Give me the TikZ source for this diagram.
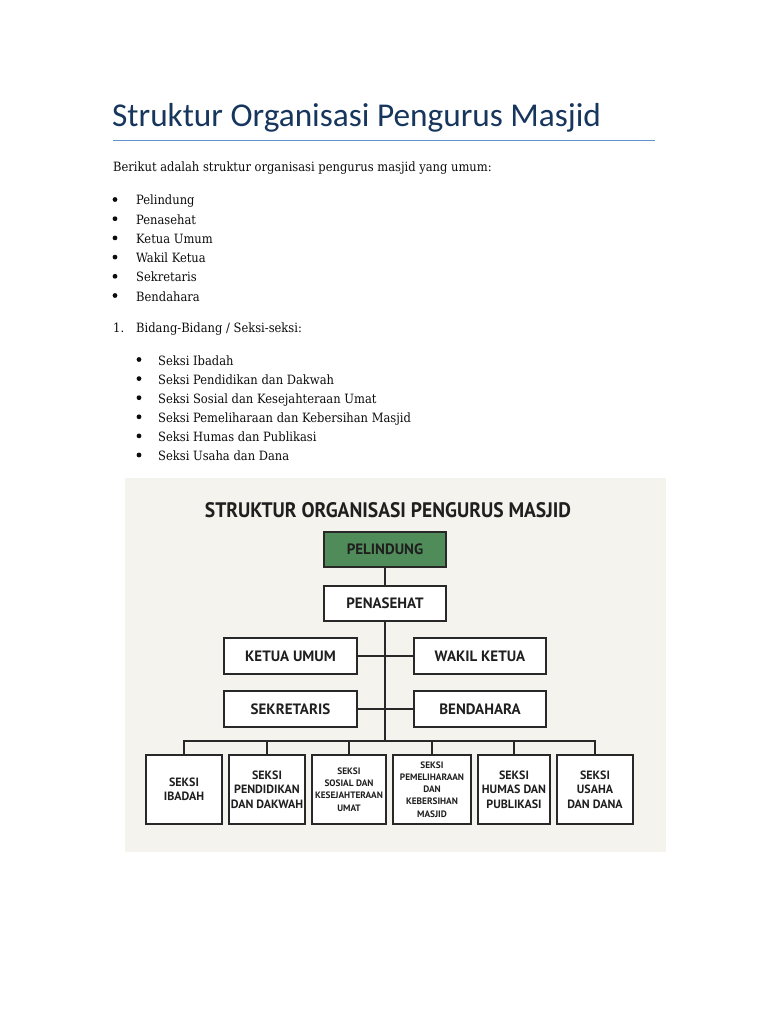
\documentclass[tikz,border=0pt]{standalone}
\usepackage{fontspec}
\setmainfont{DejaVu Serif Condensed}
\newfontfamily\headfont{Carlito}
\newfontfamily\chartfont{PT Sans}
\newfontfamily\charthead{PT Sans}[FakeStretch=0.93]
\definecolor{titleblue}{RGB}{23,54,93}
\definecolor{ruleblue}{RGB}{95,145,205}
\definecolor{chartbg}{RGB}{245,243,237}
\definecolor{pelgreen}{RGB}{80,140,90}
\definecolor{boxline}{RGB}{40,40,40}
\begin{document}
\begin{tikzpicture}[x=1pt,y=-1pt,
  txt/.style={anchor=base west,inner sep=0pt,text=black!95,font=\fontsize{12.8}{15}\selectfont},
  box/.style={draw=boxline,line width=2pt,fill=white!98!chartbg,inner sep=0pt,text=black!88,font=\chartfont\bfseries\fontsize{15}{17}\selectfont},
  seksibox/.style={box,align=center,minimum height=69,font=\chartfont\bfseries\fontsize{12}{14.3}\selectfont},
  seksismall/.style={seksibox,font=\chartfont\bfseries\fontsize{9.3}{12.2}\selectfont},
  conn/.style={draw=boxline,line width=2pt}]
 \useasboundingbox[fill=white] (0,0) rectangle (768,1024);
 \node[anchor=base west,inner sep=0pt,text=titleblue,font=\headfont\fontsize{33.3}{38}\selectfont] (title) at (112,127) {Struktur Organisasi Pengurus Masjid};
 \draw[ruleblue,line width=0.9pt] (113,140) -- (655,140);
 \node[txt] (intro) at (113,172) {Berikut adalah struktur organisasi pengurus masjid yang umum:};
 \foreach \t [count=\i] in {Pelindung,Penasehat,Ketua Umum,Wakil Ketua,Sekretaris,Bendahara}{
  \node[txt] (jab\i) at (136,{205+19.2*(\i-1)}) {\t};
  \fill[black!95] (115,{199.5+19.2*(\i-1)}) circle (2.4);
 }
 \node[txt] (num) at (113,332) {1.};
 \node[txt] (bidang) at (136,332) {Bidang-Bidang / Seksi-seksi:};
 \foreach \t [count=\i] in {Seksi Ibadah,Seksi Pendidikan dan Dakwah,Seksi Sosial dan Kesejahteraan Umat,Seksi Pemeliharaan dan Kebersihan Masjid,Seksi Humas dan Publikasi,Seksi Usaha dan Dana}{
  \node[txt] (seksi\i) at (158,{365+19.1*(\i-1)}) {\t};
  \fill[black!95] (139,{359.5+19.1*(\i-1)}) circle (2.4);
 }
 \fill[chartbg] (125,478) rectangle (666,852);
 \node[text=black!88,font=\charthead\bfseries\fontsize{21}{24}\selectfont] (charttitle) at (388,510) {STRUKTUR ORGANISASI PENGURUS MASJID};
 \node[box,fill=pelgreen,minimum width=122,minimum height=35] (pelindung) at (385,549.5) {PELINDUNG};
 \node[box,minimum width=122,minimum height=35] (penasehat) at (385,603.5) {PENASEHAT};
 \node[box,minimum width=133,minimum height=36] (ketua) at (290.5,656) {KETUA UMUM};
 \node[box,minimum width=132,minimum height=36] (wakil) at (480,656) {WAKIL KETUA};
 \node[box,minimum width=133,minimum height=36] (sekretaris) at (290.5,709) {SEKRETARIS};
 \node[box,minimum width=132,minimum height=36] (bendahara) at (480,709) {BENDAHARA};
 \foreach \x/\w/\s/\t [count=\i] in {184/76/seksibox/{SEKSI\\IBADAH},267/76/seksibox/{SEKSI\\PENDIDIKAN\\DAN DAKWAH},349/74/seksismall/{SEKSI\\SOSIAL DAN\\KESEJAHTERAAN\\UMAT},432/78/seksismall/{SEKSI\\PEMELIHARAAN\\DAN\\KEBERSIHAN\\MASJID},514/72/seksibox/{SEKSI\\HUMAS DAN\\PUBLIKASI},595/76/seksibox/{SEKSI\\USAHA\\DAN DANA}}
  \node[\s,minimum width=\w] (s\i) at (\x,789.5) {\t};
 \coordinate (bus) at (385,741);
 \draw[conn] (pelindung) -- (penasehat);
 \draw[conn] (penasehat) -- (bus);
 \draw[conn] (ketua) -- (wakil);
 \draw[conn] (sekretaris) -- (bendahara);
 \draw[conn] (s1.north) |- (bus) -| (s6.north);
 \foreach \i in {2,...,5} \draw[conn] (s\i.north) -- (s\i.north |- bus);
\end{tikzpicture}
\end{document}
